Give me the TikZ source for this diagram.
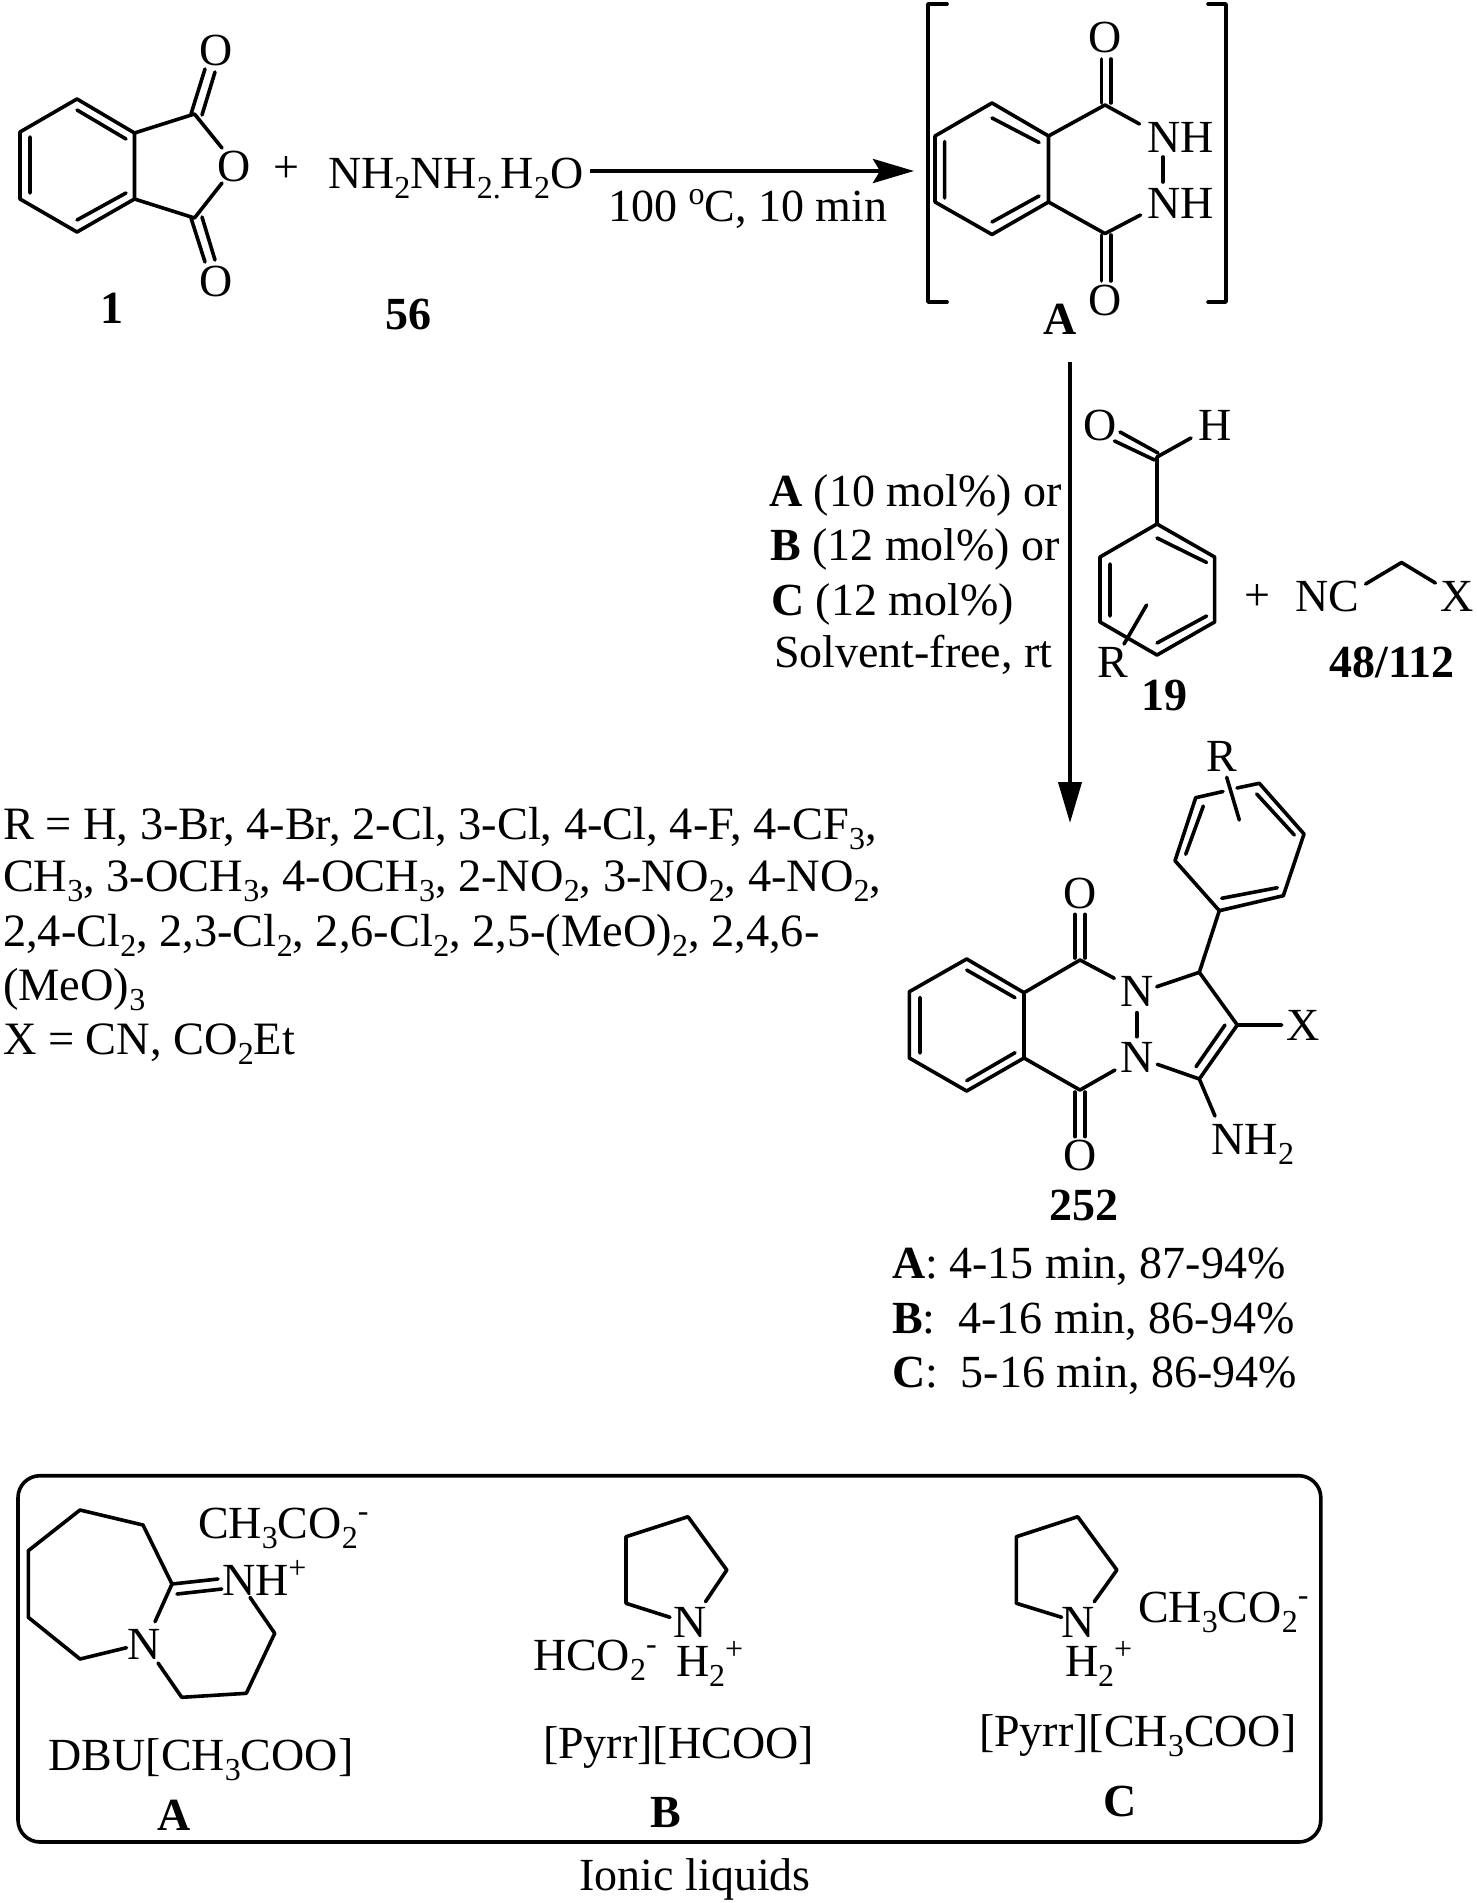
\documentclass[tikz,border=0pt]{standalone}
\usepackage{fontspec}
\setmainfont{Liberation Serif}
\usetikzlibrary{arrows.meta}
\newcommand\fsz{\fontsize{46}{50}\selectfont}
\newcommand\sbs[1]{\raisebox{-0.22em}{\fontsize{32}{32}\selectfont #1}}
\newcommand\sps[1]{\smash{\raisebox{0.36em}{\fontsize{32}{32}\selectfont #1}}}
\tikzset{
  bond/.style={line width=3.6pt,line cap=round,line join=round,black},
  txtl/.style={inner sep=0pt,outer sep=0pt,font=\fsz,anchor=base west},
  txtc/.style={inner sep=0pt,outer sep=0pt,font=\fsz,anchor=base},
  lbl/.style={inner sep=0pt,outer sep=0pt,font=\fsz\bfseries,anchor=base},
  reactarrow/.style={line width=4.5pt,-{Stealth[length=41pt,width=24pt,inset=7pt]}},
  downarrow/.style={line width=4pt,-{Triangle[length=41pt,width=23pt]}},
  ilbox/.style={line width=3.6pt,rounded corners=22pt}
}
\begin{document}
\begin{tikzpicture}[x=1pt,y=-1pt]
\useasboundingbox (0,0) rectangle (1477,1903);
% --- compound 1
\draw[bond] (77,99)--(134.5,133)--(134.5,199)--(77,232)--(20,199)--(20,132)--cycle;
\draw[bond] (77,110)--(126,139) (30,137)--(30,193) (77,220)--(126,193);
\draw[bond] (134.5,133)--(194.5,114)--(222,148) (134.5,199)--(194.5,218)--(222,183);
\draw[bond] (191,114)--(205,69) (202,115)--(215,72) (191,218)--(205,262) (202,217)--(215,260);
\node[txtc] (o1a) at (216,65) {O};
\node[txtc] (o1b) at (234.5,181.7) {O};
\node[txtc] (o1c) at (216,296.7) {O};
\node[lbl] (n1) at (112,323.5) {1};
\node[txtc] (plus1) at (286,182.5) {+};
\node[txtl] (hyd) at (328,188) {NH\sbs{2}NH\sbs{2.}H\sbs{2}O};
\node[lbl] (n56) at (408,329) {56};
% --- arrow 1
\coordinate (arr1s) at (590,171);
\coordinate (arr1e) at (914,171);
\draw[reactarrow] (arr1s)--(arr1e);
\node[txtl] (cond1) at (608,221) {100 \sps{o}C, 10 min};
% --- intermediate A
\draw[bond] (947,4)--(928,4)--(928,302)--(947,302);
\draw[bond] (1208,4)--(1226,4)--(1226,302)--(1208,302);
\draw[bond] (992,103)--(1048.5,136)--(1048.5,202)--(992,234.5)--(935,202)--(935,136)--cycle;
\draw[bond] (992,118)--(1039,142.5) (944.6,141.5)--(944.6,198) (992,222)--(1039,196);
\draw[bond] (1048.5,136)--(1105,105)--(1139.5,124) (1048.5,202)--(1105,233.6)--(1140.5,215);
\draw[bond] (1101.3,103)--(1101.3,59) (1110.8,103)--(1110.8,59) (1101.3,235)--(1101.3,281) (1110.8,235)--(1110.8,281);
\draw[bond] (1163,157)--(1163,182);
\node[txtc] (oAa) at (1105,52) {O};
\node[txtc] (oAb) at (1105,315) {O};
\node[txtl] (nhA) at (1147.6,152) {NH};
\node[txtl] (nhB) at (1147.6,218) {NH};
\node[lbl] (nA) at (1060,334) {A};
% --- arrow 2
\coordinate (arr2s) at (1070,362);
\coordinate (arr2e) at (1070,823);
\draw[downarrow] (arr2s)--(arr2e);
\node[txtl] (r1) at (769,506) {\textbf{A} (10 mol\%) or};
\node[txtl] (r2) at (770,560) {\textbf{B} (12 mol\%) or};
\node[txtl] (r3) at (771,615) {\textbf{C} (12 mol\%)};
\node[txtl] (r4) at (774,667) {Solvent-free, rt};
% --- aldehyde 19
\draw[bond] (1157,524)--(1214.6,557)--(1214.6,622)--(1157,655)--(1100,622)--(1100,557)--cycle;
\draw[bond] (1157,538)--(1206.6,562.5) (1110,564)--(1110,616) (1157,643)--(1206.6,616);
\draw[bond] (1157,524)--(1157,457)--(1191,438);
\draw[bond] (1120,432)--(1158,453) (1114.5,441)--(1154.6,460);
\draw[bond] (1146.6,605)--(1124,644);
\node[txtc] (o19) at (1100,440) {O};
\node[txtc] (h19) at (1214.6,440) {H};
\node[txtc] (r19) at (1113,677) {R};
\node[lbl] (n19) at (1164,710) {19};
\node[txtc] (plus2) at (1257.5,610.5) {+};
\node[txtl] (nc) at (1295,611) {NC};
\draw[bond] (1365.6,584)--(1401.5,562.5)--(1435.4,583);
\node[txtc] (x48) at (1456.7,611) {X};
\node[lbl] (n48) at (1392,677) {48/112};
% --- substituent text
\node[txtl] (s1) at (3,839) {\fontsize{46.4}{50}\selectfont R = H, 3-Br, 4-Br, 2-Cl, 3-Cl, 4-Cl, 4-F, 4-CF\sbs{3},};
\node[txtl] (s2) at (3,891.7) {\fontsize{46.4}{50}\selectfont CH\sbs{3}, 3-OCH\sbs{3}, 4-OCH\sbs{3}, 2-NO\sbs{2}, 3-NO\sbs{2}, 4-NO\sbs{2},};
\node[txtl] (s3) at (3,946) {\fontsize{46.4}{50}\selectfont 2,4-Cl\sbs{2}, 2,3-Cl\sbs{2}, 2,6-Cl\sbs{2}, 2,5-(MeO)\sbs{2}, 2,4,6-};
\node[txtl] (s4) at (3,1000) {\fontsize{46.4}{50}\selectfont (MeO)\sbs{3}};
\node[txtl] (s5) at (3,1054) {\fontsize{46.4}{50}\selectfont X = CN, CO\sbs{2}Et};
% --- product 252
\draw[bond] (966.7,959)--(1024,992.7)--(1024,1058)--(966.7,1091)--(909.3,1058)--(909.3,991.7)--cycle;
\draw[bond] (966.7,970)--(1015,997.7) (920,997.3)--(920,1053) (966.7,1080.7)--(1015,1052.7);
\draw[bond] (1024,992.7)--(1080,960)--(1114.3,978.3) (1024,1058)--(1080,1090)--(1115,1070);
\draw[bond] (1075,958)--(1075,914.3) (1085,958)--(1085,914.3) (1075,1092)--(1075,1136.7) (1085,1092)--(1085,1136.7);
\draw[bond] (1136.7,1012.7)--(1136.7,1036.7);
\draw[bond] (1156.7,986.7)--(1199.3,972.3)--(1237.3,1025)--(1199.3,1079)--(1157.3,1064.3);
\draw[bond] (1225,1025)--(1196,1066.7);
\draw[bond] (1237.3,1025)--(1281.7,1025) (1199.3,1079)--(1215,1116);
\draw[bond] (1199.3,972.3)--(1219.3,910.7);
\draw[bond] (1237,788)--(1259.3,783.3)--(1304,834)--(1283.3,895.7)--(1219.3,910.7)--(1175,860.7)--(1195.7,797.7)--(1223,791.5);
\draw[bond] (1221.7,898.3)--(1277.3,887.7) (1185.7,854.3)--(1203.3,806) (1256.7,794)--(1294.3,835);
\draw[bond] (1226.7,777.3)--(1239.3,820);
\node[txtc] (r252) at (1221.7,771.7) {R};
\node[txtc] (o252a) at (1080,908) {O};
\node[txtc] (o252b) at (1080,1170.7) {O};
\node[txtc] (n252a) at (1137.3,1006.7) {N};
\node[txtc] (n252b) at (1137.3,1072.7) {N};
\node[txtc] (x252) at (1302.7,1040.7) {X};
\node[txtl] (nh252) at (1211.7,1154) {NH\sbs{2}};
\node[lbl] (n252) at (1084,1220) {252};
\node[txtl] (y1) at (892,1278) {\textbf{A}: 4-15 min, 87-94\%};
\node[txtl] (y2) at (892,1333) {\textbf{B}:\ \ 4-16 min, 86-94\%};
\node[txtl] (y3) at (892,1387) {\textbf{C}:\ \ 5-16 min, 86-94\%};
% --- ionic liquids box
\draw[ilbox] (18,1475.7) rectangle (1320.8,1842);
% DBU
\draw[bond] (155,1621.7)--(172,1584)--(143,1525)--(80,1510)--(28.3,1550.7)--(28.3,1617.3)--(80,1659)--(126.5,1647.7);
\draw[bond] (172,1584)--(218,1579) (177,1594)--(221.8,1589);
\draw[bond] (158,1663)--(181.7,1697.3)--(246.3,1693.3)--(274.7,1633.3)--(250,1597.3);
\node[txtc] (ndbu) at (144,1659) {N};
\node[txtl] (nhdbu) at (222,1595) {NH\sps{+}};
\node[txtl] (acdbu) at (198,1538) {CH\sbs{3}CO\sbs{2}\sps{-}};
\node[txtl] (namea) at (48.6,1770) {DBU[CH\sbs{3}COO]};
\node[lbl] (la) at (173.7,1830.7) {A};
% Pyrr formate
\draw[bond] (705.5,1601.7)--(726.8,1570)--(688,1516.7)--(626,1536.7)--(626,1603.3)--(670,1617.3);
\node[txtc] (npb) at (690,1637) {N};
\node[txtl] (hcb) at (533,1670.7) {HCO\sbs{2}\sps{-}};
\node[txtl] (h2b) at (676,1676) {H\sbs{2}\sps{+}};
\node[txtl] (nameb) at (543,1758) {[Pyrr][HCOO]};
\node[lbl] (lb) at (665.4,1827) {B};
% Pyrr acetate
\draw[bond] (1094.2,1601.7)--(1116.9,1570)--(1077.7,1516.7)--(1016.4,1536.7)--(1016.4,1603.3)--(1061.7,1617.3);
\node[txtc] (npc) at (1077.7,1637) {N};
\node[txtl] (h2c) at (1065,1676) {H\sbs{2}\sps{+}};
\node[txtl] (acc) at (1138,1622) {CH\sbs{3}CO\sbs{2}\sps{-}};
\node[txtl] (namec) at (979,1746) {[Pyrr][CH\sbs{3}COO]};
\node[lbl] (lc) at (1120,1816) {C};
\node[txtl] (il) at (579.5,1890) {Ionic liquids};
\end{tikzpicture}
\end{document}
